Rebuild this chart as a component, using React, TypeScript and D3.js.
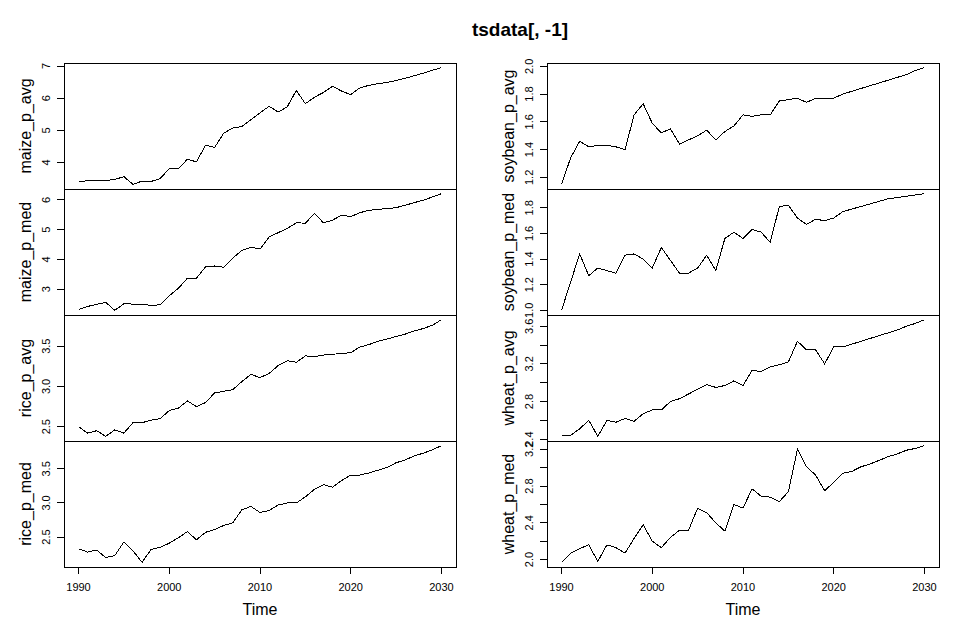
import React from 'react';
import * as d3 from 'd3';

// values, one per year 1990..2030
const FIRST_YEAR = 1990;
const xTicks = [1990, 2000, 2010, 2020, 2030];

const maizeAvg = [3.41, 3.43, 3.44, 3.44, 3.47, 3.56, 3.32, 3.42, 3.41, 3.5, 3.81, 3.81, 4.1, 4.02, 4.54, 4.47, 4.91, 5.07, 5.12, 5.33, 5.54, 5.75, 5.57, 5.73, 6.24, 5.83, 6.03, 6.18, 6.37, 6.22, 6.11, 6.32, 6.4, 6.45, 6.49, 6.55, 6.62, 6.7, 6.78, 6.87, 6.95];
const maizeMed = [2.32, 2.42, 2.49, 2.56, 2.29, 2.51, 2.5, 2.5, 2.45, 2.48, 2.78, 3.03, 3.37, 3.37, 3.75, 3.78, 3.74, 4.05, 4.3, 4.41, 4.35, 4.75, 4.9, 5.04, 5.23, 5.22, 5.54, 5.23, 5.32, 5.49, 5.44, 5.57, 5.65, 5.68, 5.71, 5.74, 5.82, 5.91, 5.99, 6.1, 6.21];
const riceAvg = [2.5, 2.42, 2.45, 2.38, 2.46, 2.42, 2.55, 2.55, 2.58, 2.6, 2.7, 2.73, 2.82, 2.75, 2.8, 2.92, 2.94, 2.96, 3.06, 3.15, 3.11, 3.16, 3.26, 3.32, 3.3, 3.38, 3.37, 3.39, 3.4, 3.41, 3.42, 3.49, 3.52, 3.56, 3.59, 3.62, 3.65, 3.69, 3.72, 3.76, 3.83];
const riceMed = [2.33, 2.28, 2.31, 2.2, 2.23, 2.43, 2.3, 2.13, 2.32, 2.35, 2.41, 2.49, 2.58, 2.46, 2.57, 2.61, 2.67, 2.71, 2.9, 2.95, 2.86, 2.89, 2.97, 3.0, 3.0, 3.09, 3.2, 3.27, 3.23, 3.33, 3.41, 3.41, 3.44, 3.48, 3.52, 3.59, 3.63, 3.69, 3.73, 3.78, 3.84];
const soyAvg = [1.15, 1.34, 1.46, 1.42, 1.43, 1.43, 1.42, 1.4, 1.65, 1.73, 1.59, 1.52, 1.55, 1.44, 1.47, 1.5, 1.54, 1.47, 1.53, 1.57, 1.65, 1.64, 1.65, 1.65, 1.75, 1.76, 1.77, 1.74, 1.77, 1.77, 1.77, 1.8, 1.82, 1.84, 1.86, 1.88, 1.9, 1.92, 1.94, 1.97, 1.99];
const soyMed = [1.0, 1.22, 1.44, 1.27, 1.33, 1.31, 1.29, 1.43, 1.44, 1.4, 1.33, 1.49, 1.39, 1.29, 1.29, 1.33, 1.43, 1.31, 1.56, 1.61, 1.56, 1.63, 1.61, 1.53, 1.81, 1.82, 1.72, 1.67, 1.71, 1.7, 1.72, 1.77, 1.79, 1.81, 1.83, 1.85, 1.87, 1.88, 1.89, 1.9, 1.91];
const wheatAvg = [2.44, 2.44, 2.51, 2.6, 2.43, 2.6, 2.58, 2.62, 2.59, 2.67, 2.71, 2.71, 2.8, 2.83, 2.88, 2.93, 2.98, 2.95, 2.97, 3.02, 2.97, 3.13, 3.12, 3.17, 3.19, 3.22, 3.44, 3.35, 3.35, 3.2, 3.38, 3.38, 3.41, 3.44, 3.47, 3.5, 3.53, 3.56, 3.6, 3.63, 3.67];
const wheatMed = [1.97, 2.07, 2.12, 2.16, 1.98, 2.16, 2.13, 2.07, 2.23, 2.38, 2.2, 2.13, 2.24, 2.32, 2.32, 2.56, 2.51, 2.4, 2.31, 2.6, 2.56, 2.77, 2.69, 2.68, 2.63, 2.74, 3.2, 3.01, 2.92, 2.75, 2.84, 2.94, 2.96, 3.01, 3.04, 3.08, 3.12, 3.15, 3.19, 3.21, 3.24];

const maizeAvgTicks = [4, 5, 6, 7];
const maizeMedTicks = [3, 4, 5, 6];
const riceTicks = [2.5, 3.0, 3.5];
const soyAvgTicks = [1.2, 1.4, 1.6, 1.8, 2.0];
const soyMedTicks = [1.0, 1.2, 1.4, 1.6, 1.8];
const wheatAvgTicks = [2.4, 2.6, 2.8, 3.0, 3.2, 3.4, 3.6];
const wheatMedTicks = [2.0, 2.2, 2.4, 2.6, 2.8, 3.0, 3.2];

const panels = [
  { name: 'maize_p_avg', values: maizeAvg, ticks: maizeAvgTicks, digits: 0, col: 0, row: 0 },
  { name: 'maize_p_med', values: maizeMed, ticks: maizeMedTicks, digits: 0, col: 0, row: 1 },
  { name: 'rice_p_avg', values: riceAvg, ticks: riceTicks, digits: 1, col: 0, row: 2 },
  { name: 'rice_p_med', values: riceMed, ticks: riceTicks, digits: 1, col: 0, row: 3 },
  { name: 'soybean_p_avg', values: soyAvg, ticks: soyAvgTicks, digits: 1, col: 1, row: 0 },
  { name: 'soybean_p_med', values: soyMed, ticks: soyMedTicks, digits: 1, col: 1, row: 1 },
  { name: 'wheat_p_avg', values: wheatAvg, ticks: wheatAvgTicks, digits: 1, col: 1, row: 2 },
  { name: 'wheat_p_med', values: wheatMed, ticks: wheatMedTicks, digits: 1, col: 1, row: 3 },
];

const W = 966;
const H = 644;
const colLeft = [64, 547];
const plotW = 392;
const top = 63;
const panelH = 126;
const font = 'Liberation Sans, Arial, Helvetica, sans-serif';
const tickFont = 11;

// R style: extend the range 4% on each side
const pad = (lo: number, hi: number): [number, number] => {
  const d = (hi - lo) * 0.04;
  return [lo - d, hi + d];
};

const Panel = ({ p }: { p: typeof panels[number] }) => {
  const x0 = colLeft[p.col];
  const y0 = top + p.row * panelH;
  const last = FIRST_YEAR + p.values.length - 1;
  const x = d3.scaleLinear().domain(pad(FIRST_YEAR, last)).range([x0, x0 + plotW]);
  const ext = d3.extent(p.values) as [number, number];
  const y = d3.scaleLinear().domain(pad(ext[0], ext[1])).range([y0 + panelH, y0]);
  const line = d3.line<number>().x((_, i) => x(FIRST_YEAR + i)).y(v => y(v));

  // drop labels that would collide with the previous one, like axis() does
  const fmt = d3.format(`.${p.digits}f`);
  let lastPos = Infinity;
  const shown = p.ticks.map(t => {
    const label = fmt(t);
    const w = label.length * 5.2 + 5;
    const pos = y(t);
    const ok = lastPos - pos >= w;
    if (ok) lastPos = pos;
    return ok;
  });

  const bottom = p.row === 3;
  return (
    <g>
      <path d={line(p.values) || ''} fill="none" stroke="#000" strokeWidth={1} />
      <rect x={x0} y={y0} width={plotW} height={panelH} fill="none" stroke="#000" strokeWidth={1} />
      {p.ticks.map((t, i) => (
        <g key={t}>
          <line x1={x0 - 7} x2={x0} y1={y(t)} y2={y(t)} stroke="#000" />
          {shown[i] && (
            <text
              transform={`translate(${x0 - 14},${y(t)}) rotate(-90)`}
              textAnchor="middle"
              fontSize={tickFont}
              fontFamily={font}
            >
              {fmt(t)}
            </text>
          )}
        </g>
      ))}
      <text
        transform={`translate(${x0 - 33},${y0 + panelH / 2}) rotate(-90)`}
        textAnchor="middle"
        fontSize={16}
        fontFamily={font}
      >
        {p.name}
      </text>
      {bottom &&
        xTicks.map(t => (
          <g key={t}>
            <line x1={x(t)} x2={x(t)} y1={y0 + panelH} y2={y0 + panelH + 7} stroke="#000" />
            <text x={x(t)} y={591} textAnchor="middle" fontSize={tickFont} fontFamily={font}>
              {t}
            </text>
          </g>
        ))}
      {bottom && (
        <text x={x0 + plotW / 2} y={615} textAnchor="middle" fontSize={16} fontFamily={font}>
          Time
        </text>
      )}
    </g>
  );
};

export default function App() {
  return (
    <svg
      width={W}
      height={H}
      style={{ position: 'absolute', left: 0, top: 0, background: '#fff' }}
      shapeRendering="crispEdges"
    >
      <rect width={W} height={H} fill="#fff" />
      <text x={520} y={36} textAnchor="middle" fontSize={19} fontWeight="bold" fontFamily={font}>
        tsdata[, -1]
      </text>
      {panels.map(p => (
        <Panel key={p.name} p={p} />
      ))}
    </svg>
  );
}
